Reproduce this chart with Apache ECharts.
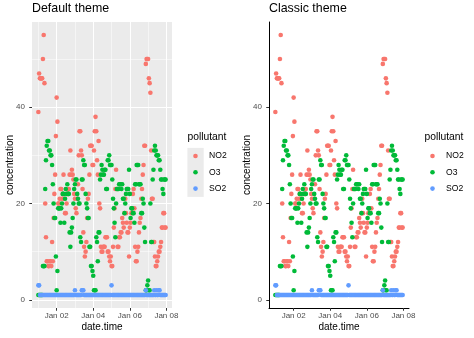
<!DOCTYPE html>
<html><head><meta charset="utf-8">
<script src="https://cdn.jsdelivr.net/npm/echarts@6/dist/echarts.min.js"></script>
<style>html,body{margin:0;padding:0;background:#fff}#c{width:474px;height:338px}</style>
</head><body><div id="c"></div>
<script>
// ---- data (hourly, Jan 01 00:00 .. Jan 07 23:00) ----
const xTickHours = [24, 72, 120, 168];
const xTickLabels = ['Jan 02', 'Jan 04', 'Jan 06', 'Jan 08'];
const xMinorHours = [0, 48, 96, 144];
const yTicks = [0, 20, 40];
const yMinor = [10, 30, 50];
const pollutants = ['NO2', 'O3', 'SO2'];
const panelTitles = ['Default theme', 'Classic theme'];
const legendTitle = 'pollutant';

const no2 = [
  39,47,46,46,46,46,50,55,45,20,
  13,8,8,7,7,8,8,7,12,8,
  17,22,26,34,42,37,20,20,21,23,
  23,21,22,26,21,18,18,20,22,22,
  23,26,31,26,27,26,25,22,21,19,
  18,21,24,30,35,35,31,30,23,14,
  11,9,10,12,17,21,22,26,32,32,
  32,28,28,31,35,38,35,29,26,33,
  20,19,11,10,10,11,11,11,13,13,
  13,10,10,9,8,9,7,7,11,15,
  19,23,27,23,11,11,13,13,14,14,
  17,16,15,18,21,18,16,14,14,9,
  15,16,18,19,22,23,19,11,8,8,
  10,11,14,16,17,21,23,26,28,32,
  32,49,50,50,50,46,45,43,31,21,
  21,12,12,9,7,7,8,9,10,10,
  11,12,15,15,18,18,15,15
];
const o3 = [
  1,1,1,1,1,1,7,7,7,23,
  29,32,33,33,31,31,30,30,28,24,
  20,17,17,9,2,6,19,19,19,16,
  19,20,22,22,16,21,23,22,24,22,
  22,14,11,14,15,17,20,23,24,25,
  25,22,21,20,20,13,12,25,25,29,
  28,28,22,20,19,17,17,11,11,7,
  7,6,5,2,2,2,13,12,8,14,
  14,25,26,28,27,26,26,27,27,23,
  23,29,29,30,28,28,28,25,21,19,
  16,13,20,23,23,23,24,24,24,23,
  24,21,21,18,20,22,23,23,23,27,
  22,17,19,19,18,18,16,24,24,28,
  28,28,24,24,24,18,18,21,20,15,
  12,2,2,3,4,2,2,20,12,12,
  25,27,31,32,31,30,30,30,29,29,
  27,25,25,23,22,25,25,25
];
const so2 = [
  3,3,1,1,1,1,1,1,1,1,
  1,1,1,1,1,1,1,1,1,1,
  1,1,1,1,1,1,1,1,1,1,
  1,1,1,1,1,1,1,1,1,1,
  1,1,1,1,1,1,1,1,2,1,
  1,1,1,1,1,1,1,2,2,2,
  1,1,1,1,1,1,1,1,1,1,
  1,1,1,1,1,1,1,1,1,1,
  1,1,1,1,1,1,1,1,1,1,
  1,1,1,1,1,1,3,1,1,1,
  1,1,1,1,1,1,1,1,1,1,
  1,1,1,1,1,1,1,1,1,1,
  1,1,1,1,1,1,1,1,1,1,
  1,1,1,1,1,1,1,1,1,1,
  1,2,1,1,1,1,1,1,1,1,
  1,1,2,1,1,2,1,1,2,2,
  1,1,1,1,1,1,1,1
];
// hour offsets since Jan 01 00:00
const hours = no2.map((_, i) => i);
const seriesValues = [no2, o3, so2];

// ---- styling ----
const FONT = '"Liberation Sans", Arial, Helvetica, sans-serif';
const colors = ['#F8766D', '#00BA38', '#619CFF'];
const XMIN = -8.35, XMAX = 175.35, YMIN = -1.7, YMAX = 57.7;
const PW = 140, PH = 286, PT = 22;
const panelLeft = [32, 269];

const chart = echarts.init(document.getElementById('c'), null, {renderer: 'canvas'});

const grid = panelLeft.map((l, i) => ({
  left: l, top: PT, width: PW, height: PH,
  show: i === 0, backgroundColor: '#EBEBEB', borderWidth: 0, containLabel: false
}));

const xAxis = [], yAxis = [];
function mainX(gi, classic) {
  return {
    gridIndex: gi, type: 'value', min: XMIN, max: XMAX, position: 'bottom',
    name: 'date.time', nameLocation: 'middle', nameGap: 14, nameMoveOverlap: false,
    nameTextStyle: {fontFamily: FONT, fontSize: 10, color: '#000', verticalAlign: 'top'},
    axisLine: {show: classic, onZero: false, lineStyle: {color: '#000', width: 1}},
    axisTick: {show: true, length: 2.75, customValues: xTickHours, lineStyle: {color: '#333', width: 1}},
    axisLabel: {show: true, customValues: xTickHours, margin: 3.5, fontFamily: FONT, fontSize: 8, color: '#4D4D4D',
      formatter: v => xTickLabels[xTickHours.indexOf(v)] || ''},
    splitLine: {show: !classic, lineStyle: {color: '#FFFFFF', width: 1.07}}
  };
}
function minorX(gi) {
  return {
    gridIndex: gi, type: 'value', min: XMIN, max: XMAX, position: 'top',
    axisLine: {show: false, onZero: false}, axisLabel: {show: false},
    axisTick: {show: false, customValues: xMinorHours},
    splitLine: {show: true, lineStyle: {color: '#FFFFFF', width: 0.53}}
  };
}
function mainY(gi, classic) {
  return {
    gridIndex: gi, type: 'value', min: YMIN, max: YMAX, position: 'left',
    name: 'concentration', nameLocation: 'middle', nameGap: 16.5, nameMoveOverlap: false,
    nameTextStyle: {fontFamily: FONT, fontSize: 10, color: '#000'},
    axisLine: {show: classic, onZero: false, lineStyle: {color: '#000', width: 1}},
    axisTick: {show: true, length: 2.75, customValues: yTicks, lineStyle: {color: '#333', width: 1}},
    axisLabel: {show: true, customValues: yTicks, margin: 7, fontFamily: FONT, fontSize: 8, color: '#4D4D4D'},
    splitLine: {show: !classic, lineStyle: {color: '#FFFFFF', width: 1.07}}
  };
}
function minorY(gi) {
  return {
    gridIndex: gi, type: 'value', min: YMIN, max: YMAX, position: 'right',
    axisLine: {show: false, onZero: false}, axisLabel: {show: false},
    axisTick: {show: false, customValues: yMinor},
    splitLine: {show: true, lineStyle: {color: '#FFFFFF', width: 0.53}}
  };
}
xAxis.push(mainX(0, false), minorX(0), mainX(1, true));
yAxis.push(mainY(0, false), minorY(0), mainY(1, true));

const series = [];
[[0, 0], [2, 2]].forEach(([xi, yi]) => {
  pollutants.forEach((p, k) => {
    series.push({
      type: 'scatter', name: p, xAxisIndex: xi, yAxisIndex: yi,
      symbol: 'circle', symbolSize: 4.6, silent: true,
      itemStyle: {color: colors[k], opacity: 1},
      data: hours.map((h, i) => [h, seriesValues[k][i]])
    });
  });
});

const titles = [];
panelTitles.forEach((t, i) => {
  titles.push({text: t, left: panelLeft[i], top: 3, padding: 0,
    textStyle: {fontFamily: FONT, fontSize: 12.4, fontWeight: 'normal', color: '#000'}});
  titles.push({text: legendTitle, left: panelLeft[i] + 155.5, top: 132, padding: 0,
    textStyle: {fontFamily: FONT, fontSize: 10.3, fontWeight: 'normal', color: '#000'}});
});

const legend = panelLeft.map(l => ({
  data: pollutants, orient: 'vertical', left: l + 161.2, top: 151, padding: 0,
  icon: 'circle', itemWidth: 4.6, itemHeight: 4.6, itemGap: 6.3, selectedMode: false,
  textStyle: {fontFamily: FONT, fontSize: 8.6, color: '#000', lineHeight: 10, padding: [0, 0, 0, 6.2]}
}));

chart.setOption({
  animation: false,
  backgroundColor: '#FFFFFF',
  title: titles,
  legend: legend,
  grid: grid,
  xAxis: xAxis,
  yAxis: yAxis,
  graphic: [{type: 'rect', shape: {x: 187.4, y: 147.9, width: 16.3, height: 49}, style: {fill: '#EBEBEB'}, z: -1, silent: true}],
  series: series
});
</script>
</body></html>
